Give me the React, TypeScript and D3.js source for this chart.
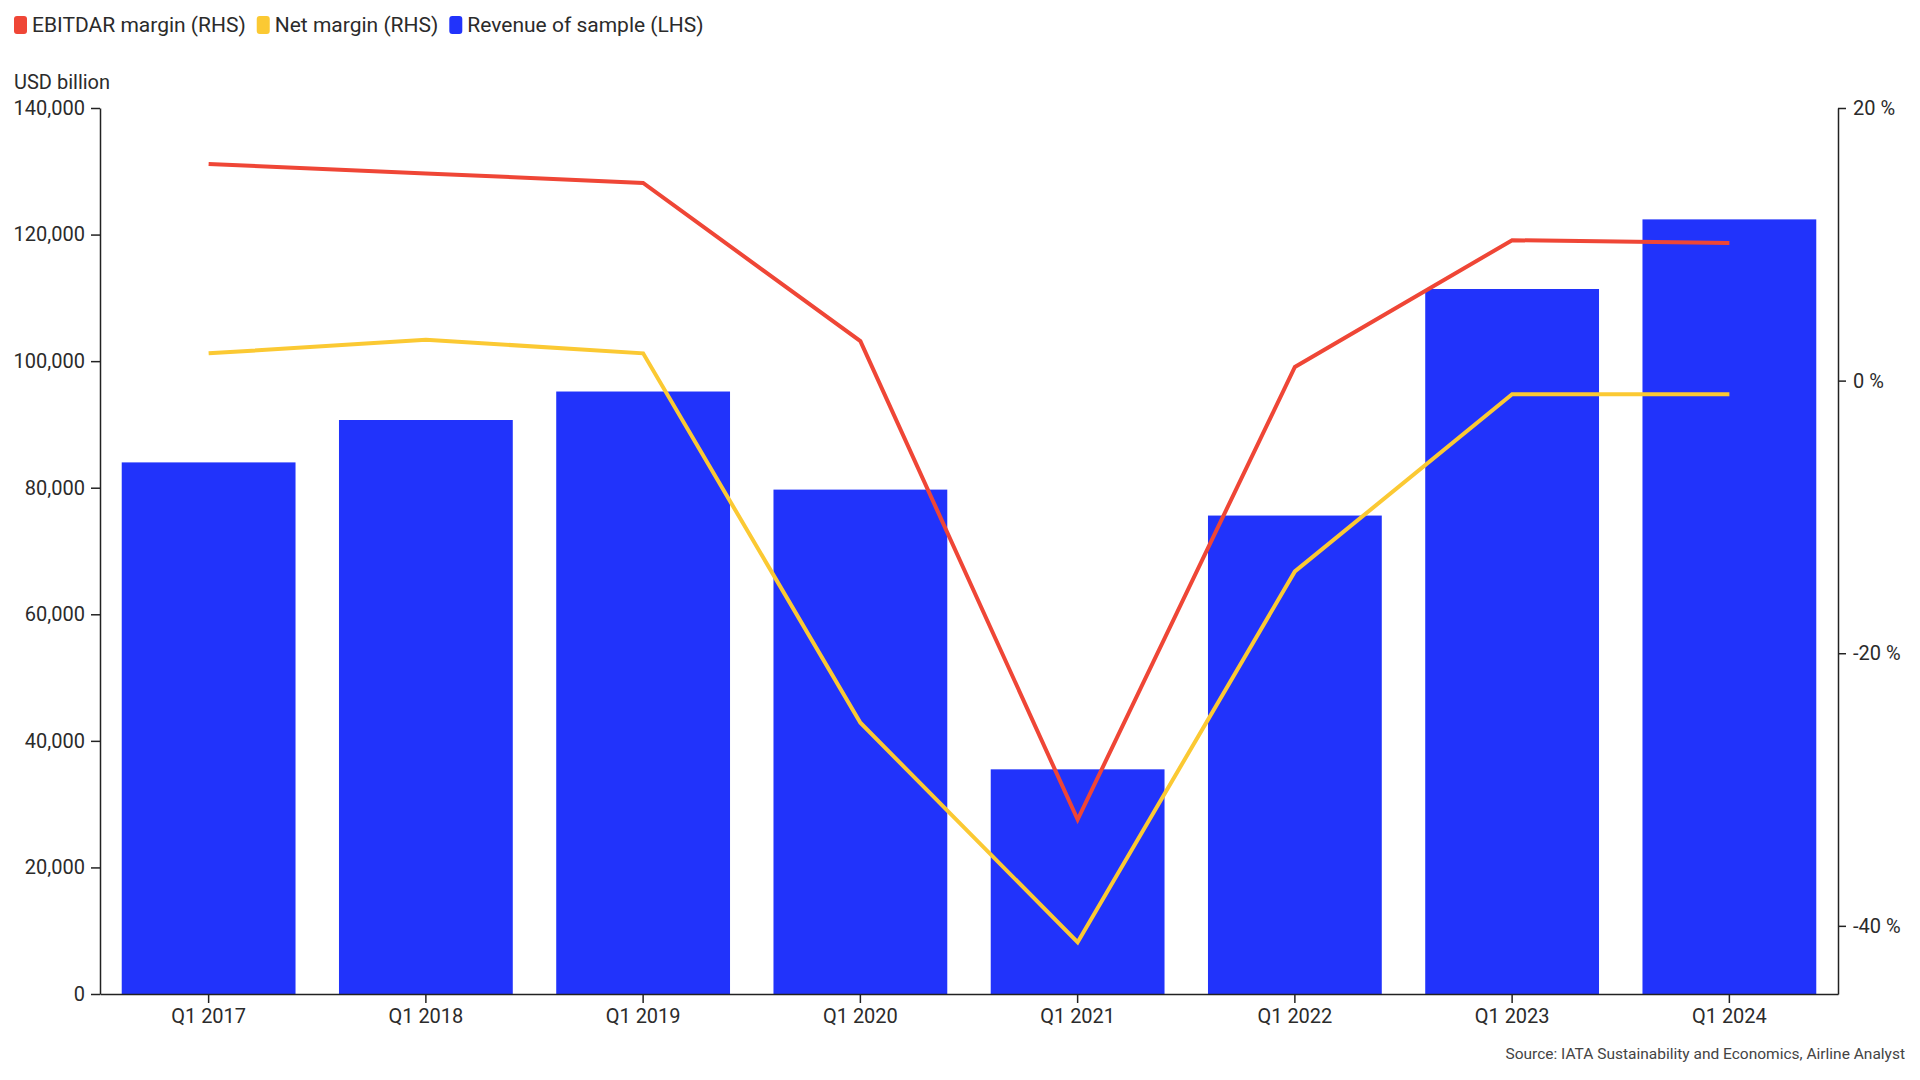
import { useEffect, useRef } from 'react'
import * as d3 from 'd3'

const quarters = ['Q1 2017', 'Q1 2018', 'Q1 2019', 'Q1 2020', 'Q1 2021', 'Q1 2022', 'Q1 2023', 'Q1 2024']
const revenue = [84000, 90700, 95200, 79700, 35500, 75600, 111400, 122400]
const ebitdarMargin = [15.9, 15.2, 14.5, 2.9, -32.2, 1.0, 10.3, 10.1]
const netMargin = [2.0, 3.0, 2.0, -25.1, -41.2, -14.0, -1.0, -1.0]
const leftTicks = [0, 20000, 40000, 60000, 80000, 100000, 120000, 140000]
const rightTicks = [20, 0, -20, -40]

const legendItems = [
  { label: 'EBITDAR margin (RHS)', color: '#ef4636' },
  { label: 'Net margin (RHS)', color: '#fbc933' },
  { label: 'Revenue of sample (LHS)', color: '#2133fb' },
]

const FONT = 'Roboto, sans-serif'
const TEXT = '#2b2b2b'

export default function App() {
  const svgRef = useRef<SVGSVGElement>(null)

  useEffect(() => {
    if (!svgRef.current) return
    document.body.style.margin = '0'

    const W = 1920
    const H = 1080
    const margin = { top: 108, right: 82, bottom: 86, left: 100 }
    const innerW = W - margin.left - margin.right
    const innerH = H - margin.top - margin.bottom

    d3.select(svgRef.current).selectAll('*').remove()

    const root = d3.select(svgRef.current)
      .attr('width', W)
      .attr('height', H)
      .style('font-family', FONT)

    root.append('rect').attr('width', W).attr('height', H).attr('fill', '#fff')

    const svg = root.append('g')
      .attr('transform', `translate(${margin.left},${margin.top})`)

    // Scales
    const x = d3.scaleBand<string>()
      .domain(quarters)
      .range([0, innerW])
      .paddingInner(0.2)
      .paddingOuter(0.1)

    const yLeft = d3.scaleLinear().domain([0, 140000]).range([innerH, 0])
    const yRight = d3.scaleLinear().domain([-45, 20]).range([innerH, 0])

    // Bars
    svg.selectAll('rect.bar')
      .data(quarters)
      .join('rect')
      .attr('class', 'bar')
      .attr('x', d => x(d)!)
      .attr('width', x.bandwidth())
      .attr('y', (_, i) => yLeft(revenue[i]))
      .attr('height', (_, i) => innerH - yLeft(revenue[i]))
      .attr('fill', '#2133fb')

    // Lines
    const line = d3.line<number>()
      .x((_, i) => x(quarters[i])! + x.bandwidth() / 2)
      .y(d => yRight(d))

    svg.append('path')
      .datum(ebitdarMargin)
      .attr('fill', 'none')
      .attr('stroke', '#ef4636')
      .attr('stroke-width', 4)
      .attr('d', line)

    svg.append('path')
      .datum(netMargin)
      .attr('fill', 'none')
      .attr('stroke', '#fbc933')
      .attr('stroke-width', 4)
      .attr('d', line)

    // Axes
    const styleAxis = (g: d3.Selection<SVGGElement, unknown, null, undefined>) => {
      g.selectAll('.domain').attr('stroke', '#222').attr('stroke-width', 1.5)
      g.selectAll('.tick line').attr('stroke', '#222').attr('stroke-width', 1.5)
      g.selectAll('.tick text')
        .attr('fill', TEXT)
        .attr('font-size', 20)
        .attr('font-family', FONT)
    }

    svg.append('g')
      .attr('transform', `translate(0,${innerH})`)
      .call(d3.axisBottom(x).tickSize(9).tickSizeOuter(0).tickPadding(6))
      .call(styleAxis)

    svg.append('g')
      .call(d3.axisLeft(yLeft).tickValues(leftTicks).tickSize(9).tickSizeOuter(0).tickPadding(6)
        .tickFormat(d => d3.format(',')(d as number)))
      .call(styleAxis)

    svg.append('g')
      .attr('transform', `translate(${innerW},0)`)
      .call(d3.axisRight(yRight).tickValues(rightTicks).tickSize(8).tickSizeOuter(0).tickPadding(7)
        .tickFormat(d => `${d} %`))
      .call(styleAxis)

    // Unit label
    root.append('text')
      .attr('x', 14)
      .attr('y', 89)
      .attr('fill', TEXT)
      .attr('font-size', 20)
      .text('USD billion')

    // Legend
    let lx = 14
    legendItems.forEach(item => {
      root.append('rect')
        .attr('x', lx)
        .attr('y', 16)
        .attr('width', 13)
        .attr('height', 18)
        .attr('rx', 3)
        .attr('fill', item.color)
      const t = root.append('text')
        .attr('x', lx + 18)
        .attr('y', 32)
        .attr('fill', TEXT)
        .attr('font-size', 21)
        .text(item.label)
      const w = (t.node() as SVGTextElement).getComputedTextLength()
      lx += 18 + w + 11
    })

    // Source
    root.append('text')
      .attr('x', 1905)
      .attr('y', 1059)
      .attr('text-anchor', 'end')
      .attr('fill', '#444')
      .attr('font-size', 15.5)
      .text('Source: IATA Sustainability and Economics, Airline Analyst')
  }, [])

  return (
    <div style={{ width: 1920, height: 1080 }}>
      <svg ref={svgRef} style={{ display: 'block' }}></svg>
    </div>
  )
}
